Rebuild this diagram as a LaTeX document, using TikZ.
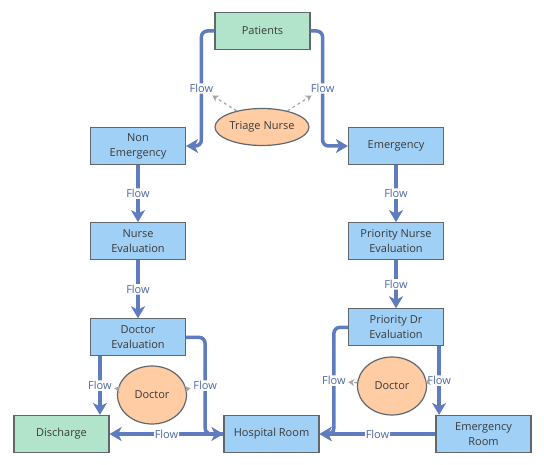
\documentclass[tikz,border=0pt]{standalone}
\usepackage{fontspec}
\setmainfont{Open Sans}
\usetikzlibrary{positioning, arrows.meta, calc, shapes.geometric}
\definecolor{ink}{RGB}{58,58,58}
\definecolor{edge}{RGB}{96,104,110}
\definecolor{skyfill}{RGB}{160,208,246}
\definecolor{mintfill}{RGB}{178,228,204}
\definecolor{peach}{RGB}{255,204,164}
\definecolor{flowblue}{RGB}{94,124,190}
\definecolor{labelblue}{RGB}{76,104,168}
\definecolor{hintgrey}{RGB}{165,165,165}

\begin{document}
\begin{tikzpicture}[x=1pt, y=1pt,
    box/.style={draw=edge, line width=1.2pt, fill=skyfill, minimum width=95pt, minimum height=37pt,
                inner sep=2pt, align=center, font=\fontsize{11}{15}\selectfont, text=ink},
    endbox/.style={box, fill=mintfill},
    role/.style={ellipse, draw=edge, line width=1.2pt, fill=peach, inner sep=0pt,
                 font=\fontsize{11}{15}\selectfont, text=ink},
    flow/.style={draw=flowblue, line width=3.5pt, rounded corners=6pt,
                 -{Stealth[length=12pt, width=14pt, inset=3.5pt]}},
    lbl/.style={fill=white, inner sep=1pt, text=labelblue, font=\fontsize{11}{13}\selectfont},
    assist/.style={draw=hintgrey, line width=1.2pt, dashed, -{Stealth[length=6pt, width=7pt]}}
  ]
  \useasboundingbox (0,0) rectangle (544,464);
  \node[endbox] (pat) at (262.5,433) {Patients};
  \node[role, minimum width=94pt, minimum height=37pt] (triage) at (262,337) {Triage Nurse};
  \node[box] (nonem) at (138,318) {Non\\Emergency};
  \node[box, below=57pt of nonem] (nurse) {Nurse\\Evaluation};
  \node[box, below=58pt of nurse] (doceval) {Doctor\\Evaluation};
  \node[box] (em) at (396,318) {Emergency};
  \node[box, below=57pt of em] (pnurse) {Priority Nurse\\Evaluation};
  \node[box, below=48pt of pnurse] (pdreval) {Priority Dr\\Evaluation};
  \node[endbox] (disch) at (61.5,30) {Discharge};
  \node[box] (hosp) at (271.5,30) {Hospital Room};
  \node[box] (emroom) at (483.5,30) {Emergency\\Room};
  \node[role, minimum width=69pt, minimum height=58pt] (docl) at (152,69) {Doctor};
  \node[role, minimum width=69pt, minimum height=58pt] (docr) at (392,78) {Doctor};
  \coordinate (dtop) at ([xshift=10pt]doceval.south west);
  \coordinate (ptop) at ([xshift=-5pt]pdreval.south east);
  \draw[flow] (pat.west) -- ++(-13,0) |- node[lbl, pos=0.25] (fnon) {Flow} (nonem.east);
  \draw[flow] (pat.east) -- ++(12,0) |- node[lbl, pos=0.25] (fem) {Flow} (em.west);
  \draw[flow] (nonem) -- node[lbl] {Flow} (nurse);
  \draw[flow] (nurse) -- node[lbl] {Flow} (doceval);
  \draw[flow] (em) -- node[lbl] {Flow} (pnurse);
  \draw[flow] (pnurse) -- node[lbl] {Flow} (pdreval);
  \draw[flow] (dtop) -- node[lbl] (fdis) {Flow} (dtop |- disch.north);
  \draw[flow] (doceval.east) -- ++(19,0) |- node[lbl, pos=0.25] (fhos) {Flow} (hosp.west);
  \draw[flow] (hosp.west) -- node[lbl] {Flow} (disch.east);
  \draw[flow] (pdreval.west) -- ++(-14,0) |- node[lbl, pos=0.25] (fhosr) {Flow} (hosp.east);
  \draw[flow] (ptop) -- node[lbl] (fer) {Flow} (ptop |- emroom.north);
  \draw[flow] (emroom.west) -- node[lbl] {Flow} (hosp.east);
  \draw[assist] (triage) -- (fnon);
  \draw[assist] (triage) -- (fem);
  \draw[assist] (docl) -- (fdis);
  \draw[assist] (docl) -- (fhos);
  \draw[assist] (docr) -- (fhosr);
  \draw[assist] (docr) -- (fer);
\end{tikzpicture}
\end{document}
